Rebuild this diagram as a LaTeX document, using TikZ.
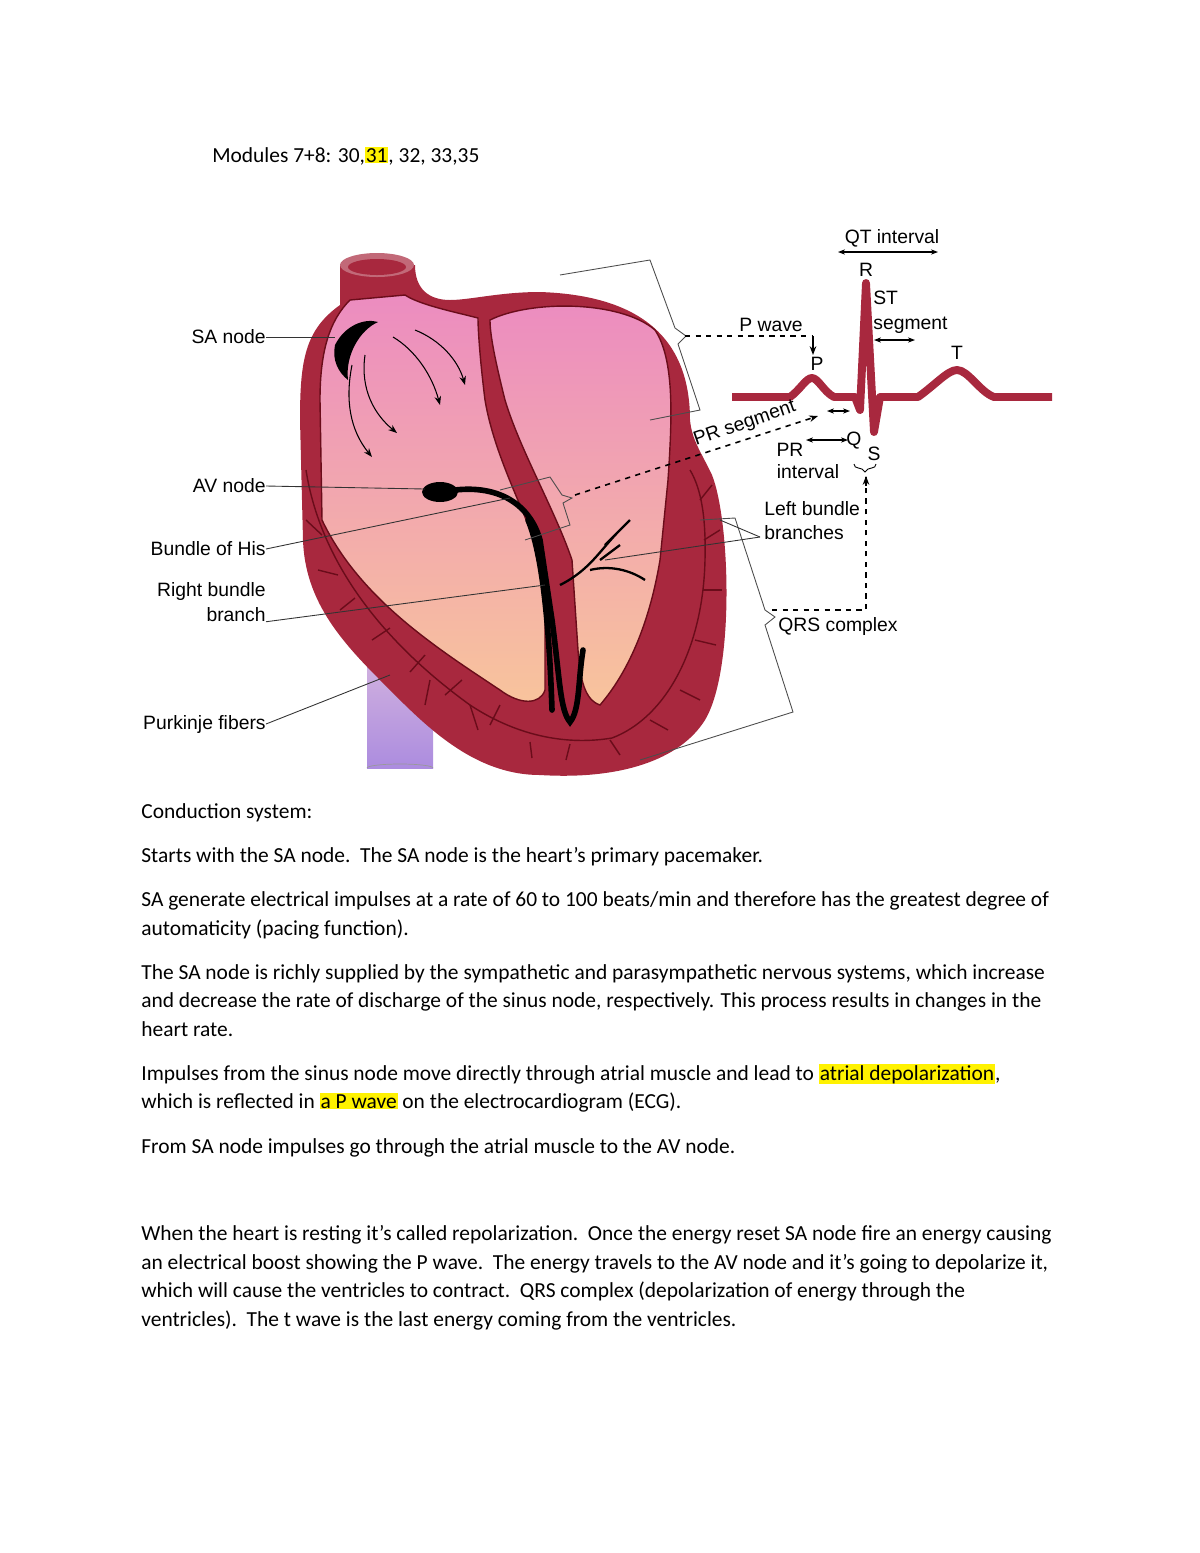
\documentclass[tikz,border=0pt]{standalone}
\usepackage{fontspec}
\setmainfont{Carlito}
\newfontfamily\arial{Liberation Sans}
\usetikzlibrary{arrows.meta}
\definecolor{wall}{HTML}{A8283E}
\definecolor{walldk}{HTML}{6A0C1A}
\definecolor{ecg}{HTML}{A8283E}
\definecolor{pinktop}{HTML}{EC8CC0}
\definecolor{peach}{HTML}{F8C49C}
\begin{document}
\begin{tikzpicture}[x=0.02cm,y=-0.02cm,
  body/.style={anchor=base west,inner sep=0pt,font=\fontsize{12.2}{16}\selectfont},
  lab/.style={inner sep=0pt,font=\arial\fontsize{11}{14}\selectfont},
  lead/.style={draw=black!80,line width=0.5pt},
  brk/.style={draw=black!70,line width=0.5pt},
  dsh/.style={draw=black,line width=0.9pt,dash pattern=on 3pt off 3pt},
  dbl/.style={draw=black,line width=0.6pt,{Stealth[length=4pt]}-{Stealth[length=4pt]}},
  sar/.style={draw=black,line width=0.6pt,-{Stealth[length=5pt]}},
  cond/.style={draw=black,line width=3.2pt,line cap=round},
  purk/.style={draw=walldk,line width=0.8pt}]
\useasboundingbox (0,0) rectangle (1200,1553);
\setlength\fboxsep{0.5pt}
% title
\node[body] (title) at (212,162) {Modules 7+8: 30,\colorbox{yellow}{31}, 32, 33,35};
% vena cava
\shade[top color=violet!25!white,bottom color=blue!45!violet!45!white] (367,620) rectangle (433,768);
\draw[black!40,line width=0.4pt] (367,768) arc (180:0:33 and -4);
% heart outer
\fill[wall] (340,265) -- (340,305) .. controls (305,330) and (300,360) .. (300,420) -- (303,540)
  .. controls (305,600) and (340,640) .. (380,680) .. controls (420,720) and (470,775) .. (540,775)
  .. controls (620,780) and (680,760) .. (705,720)
  .. controls (735,670) and (730,520) .. (712,475) .. controls (700,450) and (692,440) .. (690,420)
  .. controls (690,330) and (630,295) .. (540,292) .. controls (500,292) and (470,300) .. (450,300)
  .. controls (430,300) and (415,290) .. (415,265) -- cycle;
\fill[wall!70!white] (377,265) ellipse (37 and 12);
\fill[wall] (377,267) ellipse (29 and 8);
% chambers
\shade[top color=pinktop,bottom color=peach,draw=walldk,line width=0.8pt]
  (350,300) .. controls (330,320) and (320,350) .. (320,400) -- (322,520)
  .. controls (360,600) and (440,650) .. (500,690) .. controls (520,705) and (540,705) .. (545,690)
  -- (545,570) .. controls (530,520) and (495,460) .. (485,400) .. controls (480,360) and (478,330) .. (478,318)
  .. controls (455,312) and (420,305) .. (405,295) -- cycle;
\shade[top color=pinktop,bottom color=peach,draw=walldk,line width=0.8pt]
  (490,320) .. controls (530,300) and (620,300) .. (655,330) .. controls (675,360) and (672,420) .. (668,480)
  -- (660,560) .. controls (650,620) and (630,670) .. (600,705) .. controls (585,700) and (580,680) .. (578,650)
  -- (572,560) .. controls (555,510) and (520,450) .. (505,400) .. controls (495,360) and (490,335) .. (490,320) -- cycle;
% purkinje fibers
\draw[purk] (306,470) .. controls (320,560) and (380,640) .. (470,705) .. controls (520,738) and (570,745) .. (612,738)
  .. controls (665,718) and (703,650) .. (705,560) .. controls (706,520) and (702,490) .. (690,470);
\foreach \a/\b/\c/\d in {306/520/322/535, 318/570/338/575, 340/610/355/598, 372/640/390/628, 410/672/425/655,
  445/695/462/680, 490/725/500/705, 530/742/532/758, 570/744/566/760, 610/740/620/755, 650/720/668/730,
  680/690/700/700, 695/640/716/645, 703/590/722/590, 704/540/720/530, 700/500/712/485, 470/705/478/730, 430/680/425/705}
  {\draw[purk] (\a,\b) -- (\c,\d);}
% conduction
\fill[black] (335,345) .. controls (345,325) and (365,318) .. (378,322) .. controls (360,330) and (345,355) .. (348,380)
  .. controls (338,372) and (332,360) .. (335,345) -- cycle;
\fill[black] (440,492) ellipse (18 and 10);
\draw[cond] (455,490) .. controls (500,485) and (530,505) .. (540,540) -- (552,620) .. controls (560,680) and (560,710) .. (570,722)
  .. controls (580,710) and (578,680) .. (583,650);
\draw[cond] (528,520) .. controls (545,560) and (550,650) .. (552,710);
\draw[black,line width=1.3pt] (560,585) .. controls (590,570) and (600,550) .. (620,530) (605,545) -- (630,520)
  (590,570) .. controls (610,565) and (630,570) .. (645,580) (600,560) -- (620,545);
% atrial arrows
\draw[sar] (352,365) .. controls (345,400) and (350,430) .. (372,457);
\draw[sar] (365,355) .. controls (360,390) and (375,415) .. (397,433);
\draw[sar] (393,337) .. controls (415,350) and (432,375) .. (440,405);
\draw[sar] (415,330) .. controls (440,340) and (458,360) .. (465,385);
% labels
\node[lab,anchor=east] (sa) at (266,337) {SA node};
\node[lab,anchor=east] (av) at (266,486) {AV node};
\node[lab,anchor=east] (his) at (266,549) {Bundle of His};
\node[lab,anchor=east,align=right] (rbb) at (266,602) {Right bundle\\branch};
\node[lab,anchor=east] (pf) at (266,724) {Purkinje fibers};
\coordinate (saE) at (335,337); \draw[lead] (sa.east) -- (saE);
\coordinate (avE) at (425,489); \draw[lead] (av.east) -- (avE);
\coordinate (hisE) at (510,498); \draw[lead] (his.east) -- (hisE);
\coordinate (rbbE) at (545,585); \draw[lead] (rbb.south east) -- (rbbE);
\coordinate (pfE) at (390,675); \draw[lead] (pf.east) -- (pfE);
% brackets
\draw[brk] (560,275) -- (650,260) -- (675,328) -- (686,336) -- (678,344) -- (700,410) -- (650,420);
\draw[brk] (500,490) -- (550,477) -- (562,495) -- (572,498) -- (563,503) -- (570,525) -- (525,540);
\draw[brk] (700,520) -- (735,518) -- (765,610) -- (775,617) -- (765,625) -- (793,712) -- (640,760);
% ECG
\draw[ecg,line width=4.5pt,line join=round] (732,397) -- (790,397) .. controls (800,390) and (806,378) .. (812,378)
  .. controls (818,378) and (824,392) .. (834,397) -- (855,397) -- (860,410) -- (866,283) -- (874,432) -- (880,397)
  -- (918,397) .. controls (935,385) and (948,370) .. (957,370) .. controls (968,370) and (980,392) .. (994,397) -- (1052,397);
\node[lab] (qt) at (892,238) {QT interval};
\coordinate (qtL) at (838,252); \coordinate (qtR) at (938,252); \draw[dbl] (qtL) -- (qtR);
\node[lab] (R) at (866,270) {R};
\node[lab,anchor=north west,align=left] (st) at (873,291) {ST\\segment};
\coordinate (stL) at (874,340); \coordinate (stR) at (915,340); \draw[dbl] (stL) -- (stR);
\node[lab] (T) at (957,353) {T};
\node[lab] (P) at (817,364) {P};
\node[lab] (pw) at (771,325) {P wave};
\coordinate (pwA) at (685,336); \coordinate (pwB) at (813,336); \coordinate (pwC) at (813,355);
\draw[dsh] (pwA) -- (pwB); \draw[black,line width=0.8pt,-{Stealth[length=5pt]}] (pwB) -- (pwC);
\node[lab,rotate=19] (prs) at (745,424) {PR segment};
\coordinate (prsA) at (575,495); \coordinate (prsB) at (818,416);
\draw[dsh,-{Stealth[length=5pt]}] (prsA) -- (prsB);
\coordinate (sgL) at (827,411); \coordinate (sgR) at (850,411); \draw[dbl] (sgL) -- (sgR);
\node[lab] (pr) at (790,450) {PR};
\node[lab] (int) at (808,472) {interval};
\coordinate (prL) at (806,440); \coordinate (prR) at (848,440); \draw[dbl] (prL) -- (prR);
\node[lab] (Q) at (854,441) {Q};
\node[lab] (S) at (874,454) {S};
\draw[black,line width=0.5pt] (854,464) .. controls (854,470) and (862,466) .. (865,472) .. controls (868,466) and (876,470) .. (876,464);
\node[lab,anchor=north west,align=left] (lbb) at (764,501) {Left bundle\\branches};
\coordinate (lbA) at (760,537); \coordinate (lbB) at (605,560); \coordinate (lbC) at (720,520);
\draw[lead] (lbA) -- (lbB); \draw[lead] (lbA) -- (lbC);
\node[lab] (qrs) at (838,626) {QRS complex};
\coordinate (qA) at (772,610); \coordinate (qB) at (866,610); \coordinate (qC) at (866,476);
\draw[dsh] (qA) -- (qB) -- (qC); \draw[black,line width=0.8pt,-{Stealth[length=5pt]}] (866,486) -- (qC);
% body text
\node[body] (t1) at (141,818) {Conduction system:};
\node[body] (t2) at (141,862) {Starts with the SA node.\ \ The SA node is the heart’s primary pacemaker.};
\node[body] (t3) at (141,906) {SA generate electrical impulses at a rate of 60 to 100 beats/min and therefore has the greatest degree of};
\node[body] (t4) at (141,935) {automaticity (pacing function).};
\node[body] (t5) at (141,979) {The SA node is richly supplied by the sympathetic and parasympathetic nervous systems, which increase};
\node[body] (t6) at (141,1007) {and decrease the rate of discharge of the sinus node, respectively. This process results in changes in the};
\node[body] (t7) at (141,1036) {heart rate.};
\node[body] (t8) at (141,1080) {Impulses from the sinus node move directly through atrial muscle and lead to \colorbox{yellow}{atrial depolarization},};
\node[body] (t9) at (141,1108) {which is reflected in \colorbox{yellow}{a P wave} on the electrocardiogram (ECG).};
\node[body] (t10) at (141,1153) {From SA node impulses go through the atrial muscle to the AV node.};
\node[body] (t11) at (141,1240) {When the heart is resting it’s called repolarization.\ \ Once the energy reset SA node fire an energy causing};
\node[body] (t12) at (141,1269) {an electrical boost showing the P wave.\ \ The energy travels to the AV node and it’s going to depolarize it,};
\node[body] (t13) at (141,1297) {which will cause the ventricles to contract.\ \ QRS complex (depolarization of energy through the};
\node[body] (t14) at (141,1326) {ventricles).\ \ The t wave is the last energy coming from the ventricles.};
\end{tikzpicture}
\end{document}
